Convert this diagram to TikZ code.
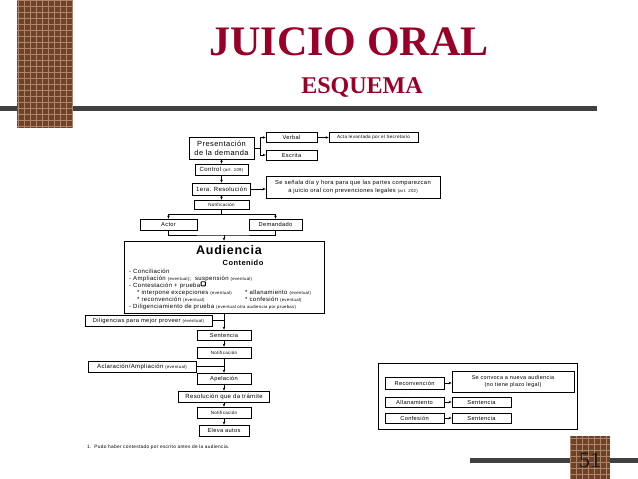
\documentclass[tikz,border=0pt]{standalone}
\usepackage{fontspec}
\usepackage{tikz}
\usetikzlibrary{arrows.meta, positioning}

\setmainfont{Liberation Serif}
\newfontfamily\dgfont{Liberation Sans}[LetterSpace=6.0]
\definecolor{titlered}{RGB}{153,0,41}
\definecolor{barbrown}{RGB}{108,66,40}
\definecolor{bargrid}{RGB}{176,132,104}
\definecolor{bandgray}{RGB}{64,64,64}
\newcommand{\peq}[1]{{\fontsize{4.3}{5}\selectfont #1}}

\begin{document}
\begin{tikzpicture}[
    x=1pt, y=-1pt,
    arr/.style={-{Stealth[length=3pt, width=2.6pt]}, line width=0.7pt},
    conn/.style={line width=0.7pt},
    box/.style={draw, line width=0.8pt, inner sep=0pt, align=center, font=\dgfont\fontsize{5.7}{6.5}\selectfont},
    txt/.style={inner sep=0pt, anchor=west, font=\dgfont\fontsize{6}{7}\selectfont},
]

    \fill[white] (0,0) rectangle (638,479);
    \useasboundingbox (0,0) rectangle (638,479);

    \fill[bandgray] (0,106) rectangle (597,111);
    \fill[barbrown] (17,0) rectangle (72,128);
    \draw[bargrid, line width=0.5pt, step=6pt] (17,0) grid (72,128);

    \fill[bandgray] (470,458) rectangle (638,463);
    \fill[barbrown] (570,436) rectangle (610,479);
    \draw[bargrid, line width=0.5pt, step=6pt] (570,436) grid (610,479);
    \node[font=\fontsize{22}{22}\selectfont, text=black!90, anchor=base] (Pag) at (590,467) {51};

    \node[font=\bfseries\fontsize{42}{42}\selectfont, text=titlered, anchor=base] (Tit) at (349,56) {JUICIO ORAL};
    \node[font=\bfseries\fontsize{24}{24}\selectfont, text=titlered, anchor=base] (Sub) at (362,93) {ESQUEMA};

    \node[box, minimum width=65, minimum height=22, font=\dgfont\fontsize{7.5}{9}\selectfont] (Pres) at (221.5,148) {Presentación\\de la demanda};
    \node[box, minimum width=51, minimum height=10] (Verb) at (291.5,137.5) {Verbal};
    \node[box, minimum width=51, minimum height=10] (Escr) at (291.5,155) {Escrita};
    \node[box, minimum width=89, minimum height=10, font=\dgfont\fontsize{4.6}{5}\selectfont] (Acta) at (373.5,137.5) {Acta levantada por el Secretario};

    \node[box, minimum width=53, minimum height=11, font=\dgfont\fontsize{6}{7}\selectfont] (Ctrl) at (221.5,169.5) {Control \peq{(art. 109)}};
    \node[box, minimum width=58, minimum height=12, font=\dgfont\fontsize{6}{7}\selectfont] (Res1) at (221.5,189) {1era. Resolución};
    \node[box, minimum width=174, minimum height=22, font=\dgfont\fontsize{5.8}{7.5}\selectfont] (Sena) at (353,187) {Se señala día y hora para que las partes comparezcan\\a juicio oral con prevenciones legales \peq{(art. 202)}};
    \node[box, minimum width=55, minimum height=9, font=\dgfont\fontsize{4.5}{5}\selectfont] (Not1) at (221.5,204.5) {Notificación};

    \node[box, minimum width=57, minimum height=11] (Act) at (168.5,224.5) {Actor};
    \node[box, minimum width=53, minimum height=11] (Dem) at (275.5,224.5) {Demandado};
    \coordinate (JAud) at (224,235);

    \node[box, minimum width=200, minimum height=72] (Aud) at (224,277) {};
    \node[inner sep=0pt, font=\dgfont\bfseries\fontsize{12.5}{12.5}\selectfont] (AudT) at (229,250) {Audiencia};
    \node[inner sep=0pt, font=\dgfont\bfseries\fontsize{7.5}{8}\selectfont] (Cont) at (243,263) {Contenido};
    \node[txt] (L1) at (129,271) {- Conciliación};
    \node[txt] (L2) at (129,279) {- Ampliación \peq{(eventual)};\ \ suspensión \peq{(eventual)}};
    \node[txt] (L3) at (129,286) {- Contestación + prueba};
    \node[draw, line width=0.9pt, rounded corners=0.6pt, minimum size=4.2pt, inner sep=0pt, anchor=south west] (Marca) at ([shift={(0.3,-1.2)}]L3.base east) {};
    \node[txt] (L4) at (137,293) {* interpone excepciones \peq{(eventual)}};
    \node[txt] (L4b) at (245,293) {* allanamiento \peq{(eventual)}};
    \node[txt] (L5) at (137,300) {* reconvención \peq{(eventual)}};
    \node[txt] (L5b) at (245,300) {* confesión \peq{(eventual)}};
    \node[txt] (L6) at (129,307) {- Diligenciamiento de prueba \peq{(eventual otra audiencia por pruebas)}};

    \node[box, minimum width=127, minimum height=11, font=\dgfont\fontsize{5.8}{7}\selectfont] (Dil) at (148.5,320.5) {Diligencias para mejor proveer \peq{(eventual)}};
    \node[box, minimum width=54, minimum height=10] (Sen) at (224,335) {Sentencia};
    \node[box, minimum width=54, minimum height=11, font=\dgfont\fontsize{4.5}{5}\selectfont] (Not2) at (224,352.5) {Notificación};
    \node[box, minimum width=108, minimum height=11, font=\dgfont\fontsize{6}{7}\selectfont] (Acl) at (142,366.5) {Aclaración/Ampliación \peq{(eventual)}};
    \node[box, minimum width=54, minimum height=11] (Ape) at (224,378.5) {Apelación};
    \node[box, minimum width=91, minimum height=11, font=\dgfont\fontsize{6}{7}\selectfont] (ResT) at (224,396.5) {Resolución que da trámite};
    \node[box, minimum width=54, minimum height=11, font=\dgfont\fontsize{4.5}{5}\selectfont] (Not3) at (224,412.5) {Notificación};
    \node[box, minimum width=50, minimum height=11] (Elev) at (224,430.5) {Eleva autos};

    \draw[line width=0.8pt] (378,363) rectangle (577,429);
    \node[box, minimum width=59, minimum height=12] (Rec) at (414.5,383) {Reconvención};
    \node[box, minimum width=122, minimum height=21, font=\dgfont\fontsize{5.5}{7}\selectfont] (Conv) at (513,381.5) {Se convoca a nueva audiencia\\(no tiene plazo legal)};
    \node[box, minimum width=59, minimum height=10] (Alla) at (414.5,402) {Allanamiento};
    \node[box, minimum width=59, minimum height=10] (Sen2) at (481.5,402) {Sentencia};
    \node[box, minimum width=59, minimum height=10] (Conf) at (414.5,418) {Confesión};
    \node[box, minimum width=59, minimum height=10] (Sen3) at (481.5,418) {Sentencia};

    \node[txt, font=\dgfont\fontsize{4.8}{5.5}\selectfont] (Nota) at (87,447) {1.\hspace{3pt}Pudo haber contestado por escrito antes de la audiencia.};

    \draw[arr] (Pres.east) -- ++(6,0) |- (Verb.west);
    \draw[arr] (Pres.east) -- ++(6,0) |- (Escr.west);
    \draw[arr] (Verb) -- (Acta);
    \draw[arr] (Pres) -- (Ctrl);
    \draw[arr] (Ctrl) -- (Res1);
    \draw[arr] (Res1.east) -- (Res1.east -| Sena.west);
    \draw[arr] (Res1) -- (Not1);

    \draw[arr] (Not1.south) -- ++(0,5) -| (Act.north);
    \draw[arr] (Not1.south) -- ++(0,5) -| (Dem.north);
    \draw[conn] (Act.south) |- (JAud) -| (Dem.south);
    \draw[arr] (JAud) -- (JAud |- Aud.north);

    \draw[arr] (Aud.south) -- (Sen.north);
    \draw[conn] (Dil.east) -- (Dil.east -| Sen.north);
    \draw[arr] (Sen) -- (Not2);
    \draw[arr] (Not2) -- (Ape);
    \draw[conn] (Acl.east) -- (Acl.east -| Ape.north);
    \draw[arr] (Ape) -- (ResT);
    \draw[arr] (ResT) -- (Not3);
    \draw[arr] (Not3) -- (Elev);

    \draw[arr] (Rec.east) -- (Rec.east -| Conv.west);
    \draw[arr] (Alla) -- (Sen2);
    \draw[arr] (Conf) -- (Sen3);

\end{tikzpicture}
\end{document}
